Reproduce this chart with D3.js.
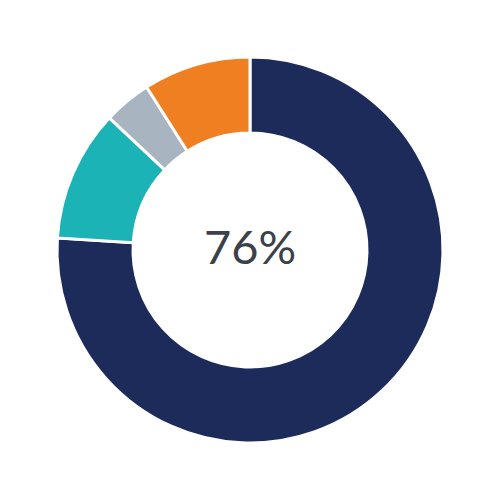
<!DOCTYPE html>
<html>
<head>
<meta charset="utf-8">
<script src="https://cdn.jsdelivr.net/npm/d3@7"></script>
<style>
  body { margin: 0; background: #fff; }
</style>
</head>
<body>
<div id="chart"></div>
<script>
const labels = ["A", "B", "C", "D"];
const values = [76, 11, 4, 9];
const colors = ["#1c2b5a", "#1bb3b5", "#a9b4c1", "#f07f22"];
const centerLabel = "76%";

const width = 500, height = 500;
const outerR = 193, innerR = 117;

const svg = d3.select("#chart")
  .append("svg")
  .attr("width", width)
  .attr("height", height)
  .append("g")
  .attr("transform", "translate(" + width / 2 + "," + height / 2 + ")");

const pie = d3.pie().sort(null).value(function(d) { return d; });
const arc = d3.arc().innerRadius(innerR).outerRadius(outerR);
const color = d3.scaleOrdinal().domain(labels).range(colors);

svg.selectAll("path")
  .data(pie(values))
  .enter()
  .append("path")
  .attr("d", arc)
  .attr("fill", function(d, i) { return color(labels[i]); })
  .attr("stroke", "#fff")
  .attr("stroke-width", 3);

svg.append("text")
  .attr("text-anchor", "middle")
  .attr("y", 14)
  .style("font-family", "Lato, 'Open Sans', sans-serif")
  .style("font-weight", 400)
  .style("font-size", "47px")
  .style("fill", "#3b4049")
  .text(centerLabel);
</script>
</body>
</html>
